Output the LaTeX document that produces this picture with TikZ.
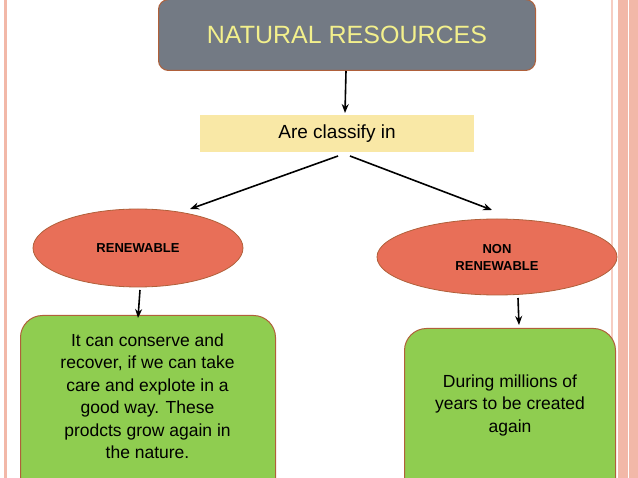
\documentclass[tikz,border=0pt]{standalone}
\usepackage{fontspec}
\setmainfont{Liberation Sans}
\usetikzlibrary{arrows.meta}
\definecolor{titlegray}{HTML}{737A84}
\definecolor{titletext}{HTML}{F3F08C}
\definecolor{classbg}{HTML}{F9E8A6}
\definecolor{ellfill}{HTML}{E86F58}
\definecolor{greenfill}{HTML}{8FCD50}
\definecolor{brownline}{HTML}{B0603A}
\definecolor{pinkline}{HTML}{F2B8A8}
\tikzset{
  arr/.style={-{Stealth[length=9pt,width=7pt]}, line width=1.6pt},
  ell/.style={ellipse, fill=ellfill, draw=brownline, line width=0.8pt, font=\bfseries\fontsize{13}{17}\selectfont, align=center},
  gbox/.style={rectangle, rounded corners=22pt, fill=greenfill, draw=brownline, line width=1pt, font=\fontsize{17.5}{22}\selectfont, align=center}
}
\usetikzlibrary{shapes.geometric}
\begin{document}
\begin{tikzpicture}[x=1pt,y=-1pt]
\useasboundingbox (0,0) rectangle (638,478);
\fill[white] (0,0) rectangle (638,478);
% borders
\fill[pinkline] (4,0) rectangle (7,478);
\fill[pinkline!70] (611,0) rectangle (613,478);
\fill[pinkline] (618,0) rectangle (638,478);
\fill[white] (628,0) rectangle (629,478);
% title
\node[rectangle, rounded corners=10pt, fill=titlegray, draw=brownline, line width=1pt,
  minimum width=377pt, minimum height=71pt, anchor=north west, text=titletext,
  font=\fontsize{25}{30}\selectfont] (title) at (158,-1) {NATURAL RESOURCES};
\node[fill=classbg, minimum width=274pt, minimum height=37pt, font=\fontsize{19}{23}\selectfont] (cls) at (337,133.5) {Are classify in};
\node[ell, minimum width=210pt, minimum height=78pt] (ren) at (138,248) {RENEWABLE};
\node[ell, minimum width=240pt, minimum height=76pt] (non) at (497,257) {NON\\RENEWABLE};
\node[gbox, minimum width=255pt, minimum height=190pt, anchor=north west] (lg) at (20,315) {};
\node[font=\fontsize{17.5}{22.5}\selectfont, align=center] (lt) at (147.5,396) {It can conserve and\\recover, if we can take\\care and explote in a\\good way. These\\prodcts grow again in\\the nature.};
\node[gbox, minimum width=211pt, minimum height=180pt, anchor=north west] (rg) at (404,328) {};
\node[font=\fontsize{17.5}{22.5}\selectfont, align=center] (rt) at (510,405) {During millions of\\years to be created\\again};
\draw[arr] (346,71) -- (345,113);
\draw[arr] (338,156) -- (190,209);
\draw[arr] (350,156) -- (492,210);
\draw[arr] (140,290) -- (138,318);
\draw[arr] (518,298) -- (519,325);
\end{tikzpicture}
\end{document}
